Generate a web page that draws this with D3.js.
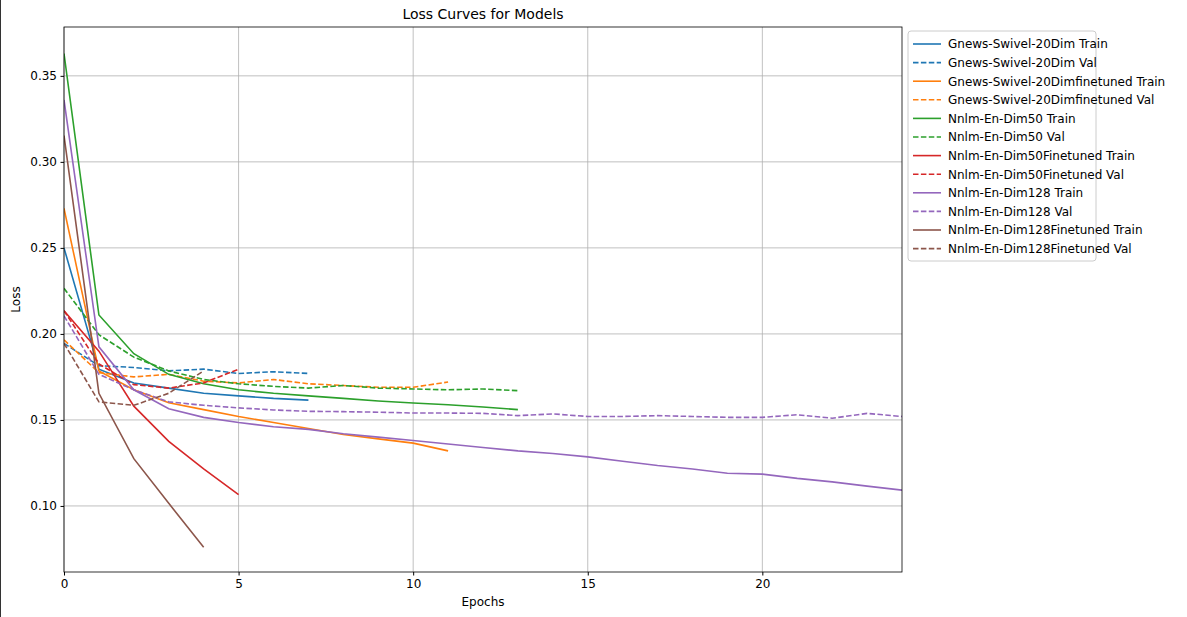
<!DOCTYPE html>
<html><head><meta charset="utf-8">
<script src="https://cdn.jsdelivr.net/npm/d3@7"></script>
<style>body{margin:0;background:#fff}svg{font-family:"DejaVu Sans",sans-serif}</style>
</head><body><svg id="c" width="1187" height="617"></svg>
<script>
const seriesNames = ["Gnews-Swivel-20Dim","Gnews-Swivel-20Dimfinetuned","Nnlm-En-Dim50","Nnlm-En-Dim50Finetuned","Nnlm-En-Dim128","Nnlm-En-Dim128Finetuned"];
const colors = ["#1f77b4","#ff7f0e","#2ca02c","#d62728","#9467bd","#8c564b"];
const trainLoss = [
 [0.250,0.1795,0.1715,0.1685,0.1655,0.164,0.1625,0.1615],
 [0.273,0.1785,0.1675,0.160,0.156,0.152,0.1485,0.145,0.1415,0.139,0.1365,0.132],
 [0.363,0.211,0.1885,0.1765,0.171,0.1675,0.1655,0.164,0.1625,0.161,0.1598,0.1588,0.1575,0.156],
 [0.2135,0.190,0.158,0.1375,0.1215,0.1066],
 [0.336,0.1925,0.1675,0.1565,0.1515,0.1485,0.146,0.1445,0.142,0.140,0.138,0.136,0.134,0.132,0.1305,0.1285,0.126,0.1235,0.1215,0.119,0.1185,0.116,0.114,0.1115,0.1092],
 [0.3153,0.1655,0.1275,0.1015,0.076]
];
const valLoss = [
 [0.1945,0.1815,0.1805,0.1785,0.1795,0.177,0.178,0.177],
 [0.1965,0.1775,0.175,0.1765,0.1725,0.1715,0.1735,0.171,0.170,0.169,0.169,0.172],
 [0.2265,0.1995,0.1865,0.1785,0.1735,0.171,0.1695,0.1685,0.170,0.1685,0.168,0.1675,0.168,0.167],
 [0.2135,0.1825,0.1705,0.1685,0.1715,0.1795],
 [0.2105,0.1765,0.1675,0.1605,0.1585,0.157,0.1558,0.155,0.1548,0.1545,0.154,0.154,0.1538,0.1525,0.1535,0.152,0.152,0.1525,0.152,0.1515,0.1515,0.153,0.151,0.1538,0.152],
 [0.1945,0.1605,0.1585,0.1655,0.1785]
];
const xTicks = [0,5,10,15,20];
const yTicks = [0.10,0.15,0.20,0.25,0.30,0.35];

const svg = d3.select("#c");
const L=64,R=902,T=27,B=572;
const x = d3.scaleLinear().domain([0,24]).range([L,R]);
const y = d3.scaleLinear().domain([0.0616,0.3784]).range([B,T]);
svg.append("line").attr("x1",0.5).attr("x2",0.5).attr("y1",0).attr("y2",617).attr("stroke","#333");
const g = svg.append("g");
g.selectAll(".gx").data(xTicks).join("line").attr("x1",d=>x(d)).attr("x2",d=>x(d)).attr("y1",T).attr("y2",B).attr("stroke","#b0b0b0").attr("stroke-width",0.8);
g.selectAll(".gy").data(yTicks).join("line").attr("y1",d=>y(d)).attr("y2",d=>y(d)).attr("x1",L).attr("x2",R).attr("stroke","#b0b0b0").attr("stroke-width",0.8);
const line = d3.line().x((d,i)=>x(i)).y(d=>y(d));
const clip = svg.append("clipPath").attr("id","cp").append("rect").attr("x",L).attr("y",T).attr("width",R-L).attr("height",B-T);
const pl = svg.append("g").attr("clip-path","url(#cp)");
seriesNames.forEach((n,i)=>{
  pl.append("path").datum(trainLoss[i]).attr("d",line).attr("fill","none").attr("stroke",colors[i]).attr("stroke-width",1.6);
  pl.append("path").datum(valLoss[i]).attr("d",line).attr("fill","none").attr("stroke",colors[i]).attr("stroke-width",1.6).attr("stroke-dasharray","5.5,2.4");
});
const xa = svg.append("g").attr("transform",`translate(0,${B})`).call(d3.axisBottom(x).tickValues(xTicks).tickSize(3.5).tickPadding(3.5));
const ya = svg.append("g").attr("transform",`translate(${L},0)`).call(d3.axisLeft(y).tickValues(yTicks).tickFormat(d3.format(".2f")).tickSize(3.5).tickPadding(3.5));
[xa,ya].forEach(a=>{a.select(".domain").remove();a.selectAll("text").attr("font-size",12).attr("fill","#000").attr("font-family","DejaVu Sans");});
svg.append("rect").attr("x",L).attr("y",T).attr("width",R-L).attr("height",B-T).attr("fill","none").attr("stroke","#000").attr("stroke-width",0.8);
svg.append("text").attr("x",(L+R)/2).attr("y",19).attr("text-anchor","middle").attr("font-size",14).text("Loss Curves for Models");
svg.append("text").attr("x",(L+R)/2).attr("y",606).attr("text-anchor","middle").attr("font-size",12).text("Epochs");
svg.append("text").attr("transform",`translate(20,${(T+B)/2}) rotate(-90)`).attr("text-anchor","middle").attr("font-size",12).text("Loss");
// legend
const entries=[];
seriesNames.forEach((n,i)=>{entries.push({t:n+" Train",c:colors[i],d:false});entries.push({t:n+" Val",c:colors[i],d:true});});
const lg = svg.append("g");
lg.append("rect").attr("x",908).attr("y",31).attr("width",188).attr("height",230).attr("rx",3).attr("fill","#fff").attr("stroke","#ccc");
entries.forEach((e,i)=>{
  const yy=44+i*18.6;
  lg.append("line").attr("x1",913).attr("x2",941).attr("y1",yy).attr("y2",yy).attr("stroke",e.c).attr("stroke-width",1.6).attr("stroke-dasharray",e.d?"5.5,2.4":null);
  lg.append("text").attr("x",948).attr("y",yy+4.3).attr("font-size",12).text(e.t);
});
</script></body></html>
